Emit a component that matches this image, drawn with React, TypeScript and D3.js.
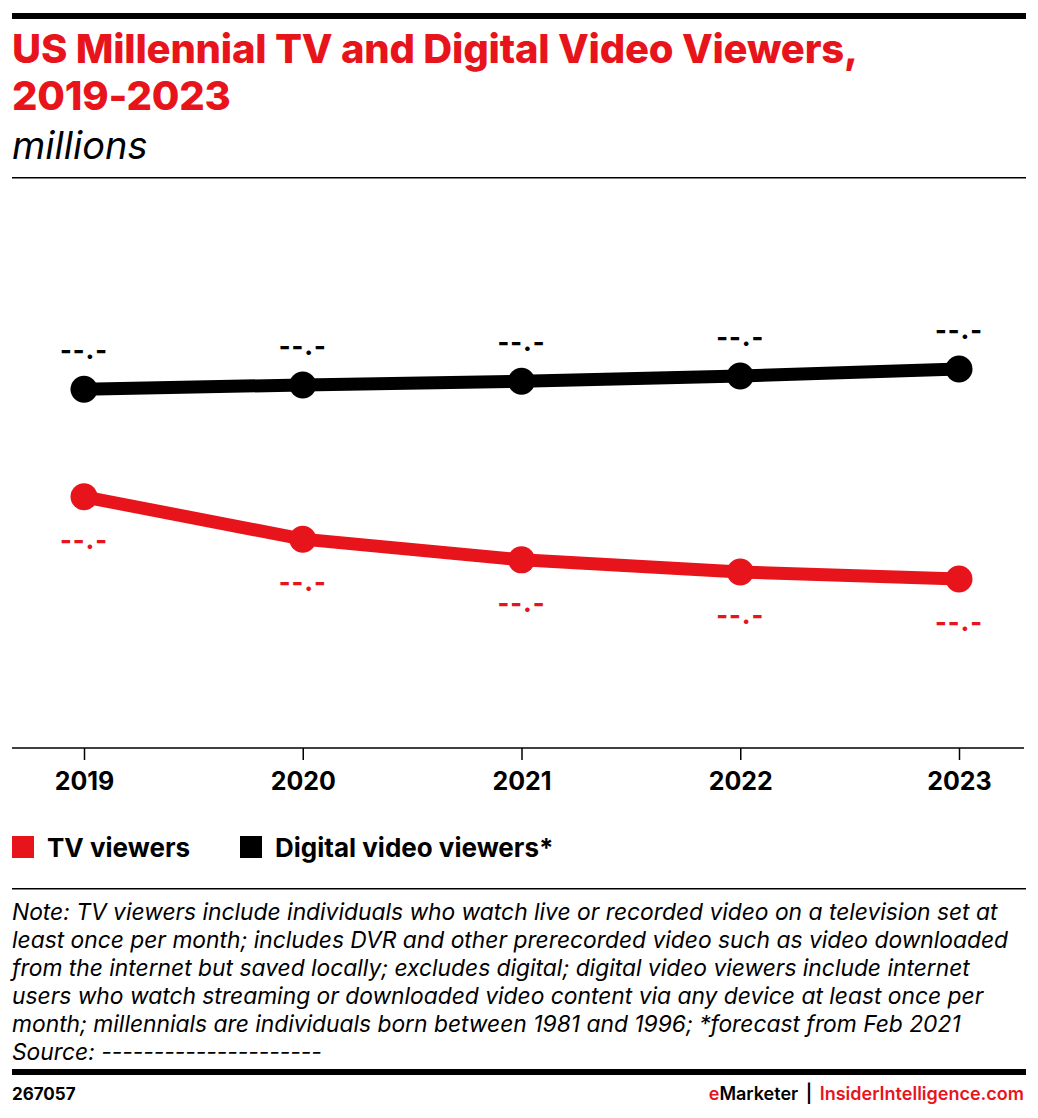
import React, { useEffect, useRef } from 'react';
import * as d3 from 'd3';

const YEARS = ['2019', '2020', '2021', '2022', '2023'];
const TV_VIEWERS = [47.4, 39.4, 35.5, 33.2, 31.9];
const DIGITAL_VIEWERS = [67.7, 68.5, 69.2, 70.2, 71.5];
const VALUE_LABEL = '--.-';

const SERIES = [
  { key: 'tv', label: 'TV viewers', values: TV_VIEWERS, color: '#e8141c', labelPos: 'below' },
  { key: 'digital', label: 'Digital video viewers*', values: DIGITAL_VIEWERS, color: '#000000', labelPos: 'above' }
];

const NOTE_LINES = [
  'Note: TV viewers include individuals who watch live or recorded video on a television set at',
  'least once per month; includes DVR and other prerecorded video such as video downloaded',
  'from the internet but saved locally; excludes digital; digital video viewers include internet',
  'users who watch streaming or downloaded video content via any device at least once per',
  'month; millennials are individuals born between 1981 and 1996; *forecast from Feb 2021',
  'Source: ---------------------'
];

const RED = '#e8141c';
const FONT = 'Inter, "Open Sans", sans-serif';

const App: React.FC = () => {
  const svgRef = useRef<SVGSVGElement>(null);

  useEffect(() => {
    if (!svgRef.current) return;
    const width = 1038;
    const height = 1118;

    d3.select(svgRef.current).selectAll('*').remove();
    const svg = d3.select(svgRef.current)
      .attr('width', width)
      .attr('height', height)
      .style('font-family', FONT);

    svg.append('rect').attr('width', width).attr('height', height).attr('fill', '#fff');

    // Header
    svg.append('rect').attr('x', 12).attr('y', 13).attr('width', 1014).attr('height', 6).attr('fill', '#000');
    svg.append('text')
      .attr('x', 12).attr('y', 63)
      .style('font-size', '40px').style('font-weight', 800).style('fill', RED)
      .style('letter-spacing', '-0.2px')
      .text('US Millennial TV and Digital Video Viewers,');
    svg.append('text')
      .attr('x', 12).attr('y', 110)
      .style('font-size', '40px').style('font-weight', 800).style('fill', RED)
      .style('letter-spacing', '-0.2px')
      .text('2019-2023');
    svg.append('text')
      .attr('x', 12).attr('y', 159)
      .style('font-size', '38px').style('font-style', 'italic').style('fill', '#000')
      .text('millions');
    svg.append('rect').attr('x', 12).attr('y', 177).attr('width', 1014).attr('height', 1.5).attr('fill', '#000');

    // Scales
    const x = d3.scalePoint<string>().domain(YEARS).range([84, 959]);
    const y = d3.scaleLinear().domain([0, 80]).range([748, 324]);

    // Axis
    const axis = svg.append('g')
      .attr('transform', 'translate(0,748)')
      .call(d3.axisBottom(x).tickSize(12).tickPadding(12));
    axis.select('.domain').remove();
    axis.insert('line', ':first-child')
      .attr('x1', 12).attr('x2', 1024).attr('y1', 0).attr('y2', 0)
      .attr('stroke', '#000').attr('stroke-width', 1.5);
    axis.selectAll('.tick line').attr('stroke', '#000').attr('stroke-width', 1.5);
    axis.selectAll('.tick text')
      .attr('dy', '0.72em')
      .style('font-family', FONT)
      .style('font-size', '25px')
      .style('font-weight', 700)
      .style('fill', '#000');

    // Lines
    const line = d3.line<number>()
      .x((_, i) => x(YEARS[i])!)
      .y(d => y(d));

    SERIES.forEach(s => {
      const g = svg.append('g');
      g.append('path')
        .datum(s.values)
        .attr('d', line)
        .attr('fill', 'none')
        .attr('stroke', s.color)
        .attr('stroke-width', 13);
      g.selectAll('circle')
        .data(s.values)
        .enter()
        .append('circle')
        .attr('cx', (_, i) => x(YEARS[i])!)
        .attr('cy', d => y(d))
        .attr('r', 13.5)
        .attr('fill', s.color);
      g.selectAll('.value-label')
        .data(s.values)
        .enter()
        .append('text')
        .attr('class', 'value-label')
        .attr('x', (_, i) => x(YEARS[i])!)
        .attr('y', d => s.labelPos === 'above' ? y(d) - 30 : y(d) + 52)
        .attr('text-anchor', 'middle')
        .style('font-size', '25px')
        .style('font-weight', 800)
        .style('letter-spacing', '1px')
        .style('fill', s.color)
        .text(VALUE_LABEL);
    });

    // Legend
    const legendItems = [
      { s: SERIES[0], x: 12 },
      { s: SERIES[1], x: 240 }
    ];
    legendItems.forEach(({ s, x: lx }) => {
      svg.append('rect').attr('x', lx).attr('y', 836).attr('width', 22).attr('height', 22).attr('fill', s.color);
      svg.append('text')
        .attr('x', lx + 35).attr('y', 857)
        .style('font-size', '26px').style('font-weight', 700).style('fill', '#000')
        .text(s.label);
    });

    // Note
    svg.append('rect').attr('x', 12).attr('y', 888).attr('width', 1014).attr('height', 1.5).attr('fill', '#000');
    svg.append('g').selectAll('text')
      .data(NOTE_LINES)
      .enter()
      .append('text')
      .attr('x', 12)
      .attr('y', (_, i) => 920 + i * 28)
      .style('font-size', '22.8px')
      .style('font-style', 'italic')
      .style('fill', '#000')
      .text(d => d);

    // Footer
    svg.append('rect').attr('x', 12).attr('y', 1069).attr('width', 1014).attr('height', 6).attr('fill', '#000');
    svg.append('text')
      .attr('x', 12).attr('y', 1100)
      .style('font-size', '17px').style('font-weight', 700).style('fill', '#000')
      .text('267057');
    const brand = svg.append('text')
      .attr('x', 1024).attr('y', 1100)
      .attr('text-anchor', 'end')
      .style('font-size', '18px').style('font-weight', 600);
    brand.append('tspan').style('fill', RED).text('e');
    brand.append('tspan').style('fill', '#000').text('Marketer');
    brand.append('tspan').style('fill', '#000').text(' \u2009|\u2009 ');
    brand.append('tspan').style('fill', RED).text('InsiderIntelligence.com');
  }, []);

  return (
    <svg ref={svgRef} style={{ position: 'absolute', left: 0, top: 0, display: 'block' }} />
  );
};

export default App;
